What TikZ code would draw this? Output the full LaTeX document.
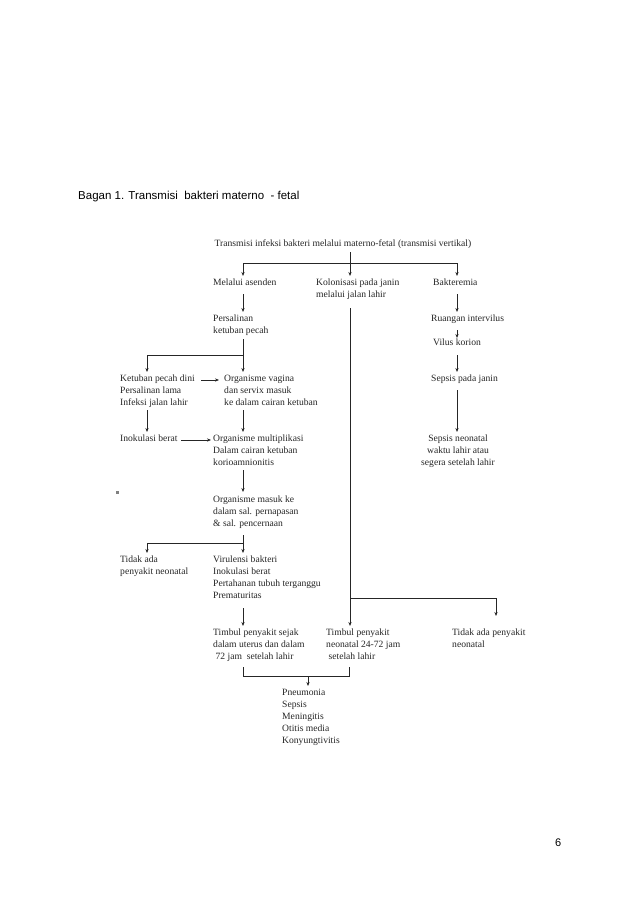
\documentclass[tikz,border=0pt]{standalone}
\usepackage{fontspec}
\setmainfont{Liberation Serif}
\newfontfamily\capfont{Liberation Sans}
\usetikzlibrary{arrows.meta}
\begin{document}
\begin{tikzpicture}[x=1pt,y=-1pt,
  txt/.style={anchor=north west,inner sep=0pt,align=left,font=\fontsize{9.6}{12}\selectfont,text=black!85},
  ctr/.style={txt,anchor=north,align=center},
  ln/.style={line width=0.8pt,black!85},
  ar/.style={ln,-{Stealth[length=4pt,width=3.2pt]}}]
\fill[white] (0,0) rectangle (638,904);
\useasboundingbox (0,0) rectangle (638,904);
\node[anchor=west,inner sep=0pt,font=\capfont\fontsize{11.5}{13}\selectfont] (cap) at (78,197) {Bagan 1. Transmisi\ \ bakteri materno\ \ - fetal};
\node[anchor=west,inner sep=0pt,font=\capfont\fontsize{11}{13}\selectfont] (pg) at (555,843) {6};
\fill[gray] (115.5,490.5) rectangle (119,494) coordinate (sq);
\node[ctr] (title) at (343,240) {Transmisi infeksi bakteri melalui materno-fetal (transmisi vertikal)};
\node[txt] (asc) at (213,279) {Melalui asenden};
\node[txt] (kol) at (316,279) {Kolonisasi pada janin\\melalui jalan lahir};
\node[txt] (bak) at (433,279) {Bakteremia};
\node[txt] (pers) at (213,315) {Persalinan\\ketuban pecah};
\node[txt] (ket) at (120,375) {Ketuban pecah dini\\Persalinan lama\\Infeksi jalan lahir};
\node[txt] (org) at (224,375) {Organisme vagina\\dan servix masuk\\ke dalam cairan ketuban};
\node[txt] (ino) at (120,435) {Inokulasi berat};
\node[txt] (mul) at (213,435) {Organisme multiplikasi\\Dalam cairan ketuban\\korioamnionitis};
\node[txt] (ruang) at (431,315) {Ruangan intervilus};
\node[txt] (vilus) at (433,339) {Vilus korion};
\node[txt] (sjan) at (431,375) {Sepsis pada janin};
\node[ctr] (sneo) at (458,435) {Sepsis neonatal\\waktu lahir atau\\segera setelah lahir};
\node[txt] (masuk) at (213,496) {Organisme masuk ke\\dalam sal. pernapasan\\\& sal. pencernaan};
\node[txt] (tidak1) at (120,556) {Tidak ada\\penyakit neonatal};
\node[txt] (vir) at (213,556) {Virulensi bakteri\\Inokulasi berat\\Pertahanan tubuh terganggu\\Prematuritas};
\node[txt] (tim1) at (213,629) {Timbul penyakit sejak\\dalam uterus dan dalam\\\ 72 jam\ \ setelah lahir};
\node[txt] (tim2) at (326,629) {Timbul penyakit\\neonatal 24-72 jam\\\ setelah lahir};
\node[txt] (tidak2) at (452,629) {Tidak ada penyakit\\neonatal};
\node[txt] (pneu) at (282,689) {Pneumonia\\Sepsis\\Meningitis\\Otitis media\\Konyungtivitis};
% junctions
\coordinate (j0) at (350,263);
\coordinate (j1) at (243,355);
\coordinate (j2) at (243,543);
\coordinate (j3) at (350,598);
\coordinate (j4) at (308,676);
\draw[ln] (350,252) -- (j0);
\draw[ar] (j0) -| (243,276);
\draw[ar] (j0) -| (457,276);
\draw[ar] (j0) -- (350,276);
\draw[ar] (243,294) -- (243,312);
\draw[ln] (243,339) -- (j1);
\draw[ar] (j1) -- (243,372);
\draw[ar] (j1) -| (147,372);
\draw[ar] (201,380) -- (219,380);
\draw[ar] (147,410) -- (147,432);
\draw[ar] (181,440) -- (211,440);
\draw[ar] (243,410) -- (243,432);
\draw[ar] (243,470) -- (243,492);
\draw[ln] (243,535) -- (j2);
\draw[ar] (j2) -- (243,553);
\draw[ar] (j2) -| (147,553);
\draw[ar] (243,608) -- (243,626);
\draw[ar] (350,308) -- (350,626);
\draw[ar] (j3) -| (496,616);
\draw[ar] (457,294) -- (457,312);
\draw[ar] (457,330) -- (457,338);
\draw[ar] (457,355) -- (457,372);
\draw[ar] (457,390) -- (457,432);
\draw[ln] (243,667) -- (243,676) -- (349,676) -- (349,667);
\draw[ar] (j4) -- (308,686);
\end{tikzpicture}
\end{document}
